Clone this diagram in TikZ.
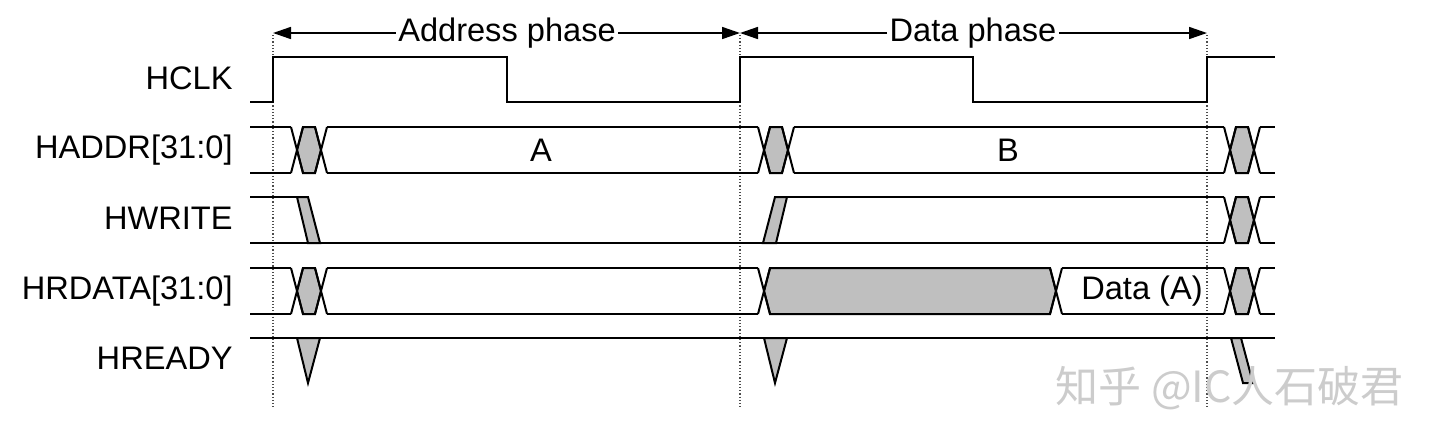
\documentclass[tikz,border=0pt]{standalone}
\usepackage{fontspec}
\setmainfont{Liberation Sans}
\newfontfamily\cjkfont{Noto Sans CJK SC}
\usetikzlibrary{arrows.meta}

\tikzstyle{signame} = [anchor=east, font=\fontsize{16.3}{18}\selectfont, inner sep=0pt]
\tikzstyle{valtext} = [font=\fontsize{16.3}{18}\selectfont, inner sep=0pt]
\tikzstyle{wave} = [line width=1pt, line join=miter]
\tikzstyle{trans} = [wave, fill=black!25]
\tikzstyle{grid} = [densely dotted, line width=0.6pt, black!70]

% crossing of a bus at x = #1, top #2, bottom #3
\newcommand{\buscross}[3]{
  \filldraw[trans] (#1+6,#2/2+#3/2) -- (#1+12,#2) -- (#1+24,#2) -- (#1+30,#2/2+#3/2) -- (#1+24,#3) -- (#1+12,#3) -- cycle;
  \draw[wave] (#1,#2) -- (#1+12,#3) (#1,#3) -- (#1+12,#2);
  \draw[wave] (#1+24,#2) -- (#1+36,#3) (#1+24,#3) -- (#1+36,#2);
}

\begin{document}
\begin{tikzpicture}[x=0.5pt, y=-0.5pt]
  \useasboundingbox (0,0) rectangle (1440,446);

  \coordinate (t0) at (273,33);
  \coordinate (t1) at (740,33);
  \coordinate (t2) at (1207,33);

  % clock edges
  \foreach \x in {273,740,1207}
    \draw[grid] (\x,35) -- (\x,408);

  % phases
  \node[valtext, fill=white, inner xsep=1pt] (addr) at (507,33) {Address phase};
  \node[valtext, fill=white, inner xsep=1pt] (data) at (973,33) {Data phase};
  \draw[line width=0.8pt, -{Triangle[length=9pt,width=6pt]}] (addr) -- (t0);
  \draw[line width=0.8pt, -{Triangle[length=9pt,width=6pt]}] (addr) -- (t1);
  \draw[line width=0.8pt, -{Triangle[length=9pt,width=6pt]}] (data) -- (t1);
  \draw[line width=0.8pt, -{Triangle[length=9pt,width=6pt]}] (data) -- (t2);

  % names
  \node[signame] (hclk) at (233,78) {HCLK};
  \node[signame] (haddr) at (233,150) {HADDR[31:0]};
  \node[signame] (hwrite) at (233,218) {HWRITE};
  \node[signame] (hrdata) at (233,291) {HRDATA[31:0]};
  \node[signame] (hready) at (233,358) {HREADY};

  % HCLK
  \draw[wave] (250,102) -- (273,102) -- (273,57) -- (507,57) -- (507,102) -- (740,102)
    -- (740,57) -- (973,57) -- (973,102) -- (1207,102) -- (1207,57) -- (1275,57);

  % HADDR
  \draw[wave] (250,127) -- (291,127) (250,173) -- (291,173);
  \buscross{291}{127}{173}
  \draw[wave] (327,127) -- (758,127) (327,173) -- (758,173);
  \buscross{758}{127}{173}
  \draw[wave] (794,127) -- (1224,127) (794,173) -- (1224,173);
  \buscross{1224}{127}{173}
  \draw[wave] (1260,127) -- (1275,127) (1260,173) -- (1275,173);
  \node[valtext] (vala) at (541,150) {A};
  \node[valtext] (valb) at (1008,150) {B};

  % HWRITE
  \draw[wave] (250,197) -- (297,197);
  \filldraw[trans] (297,197) -- (308,197) -- (320,243) -- (308,243) -- cycle;
  \filldraw[trans] (763,243) -- (776,243) -- (787,197) -- (775,197) -- cycle;
  \draw[wave] (250,243) -- (1224,243) (787,197) -- (1224,197);
  \buscross{1224}{197}{243}
  \draw[wave] (1260,197) -- (1275,197) (1260,243) -- (1275,243);

  % HRDATA
  \draw[wave] (250,268) -- (291,268) (250,314) -- (291,314);
  \buscross{291}{268}{314}
  \draw[wave] (327,268) -- (758,268) (327,314) -- (758,314);
  \filldraw[trans] (764,291) -- (770,268) -- (1050,268) -- (1056,291) -- (1050,314) -- (770,314) -- cycle;
  \draw[wave] (758,268) -- (770,314) (758,314) -- (770,268);
  \draw[wave] (1050,268) -- (1062,314) (1050,314) -- (1062,268);
  \draw[wave] (1062,268) -- (1224,268) (1062,314) -- (1224,314);
  \buscross{1224}{268}{314}
  \draw[wave] (1260,268) -- (1275,268) (1260,314) -- (1275,314);
  \node[valtext] (vdata) at (1142,291) {Data (A)};

  % HREADY
  \draw[wave] (250,338) -- (1275,338);
  \filldraw[trans] (297,338) -- (320,338) -- (308,383) -- cycle;
  \filldraw[trans] (764,338) -- (787,338) -- (775,383) -- cycle;
  \filldraw[trans] (1231,338) -- (1241,338) -- (1253,383) -- (1243,383) -- cycle;

  % watermark
  \node[anchor=west, inner sep=0pt, text=black!20, font=\cjkfont\fontsize{21.5}{23}\selectfont] (mark) at (1055,388) {知乎 @IC人石破君};
\end{tikzpicture}
\end{document}
